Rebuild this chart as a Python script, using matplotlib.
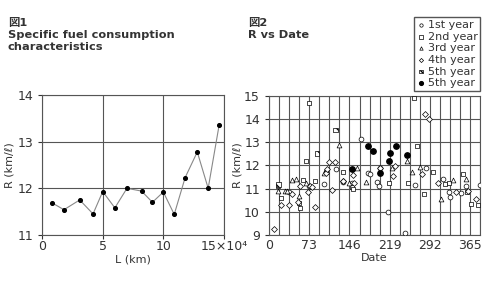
import numpy as np
import matplotlib
matplotlib.use("Agg")
import matplotlib.pyplot as plt
from matplotlib.ticker import MultipleLocator

plt.rcParams['font.family'] = ['DejaVu Sans', 'Noto Sans CJK JP']

# Fig.1: specific fuel consumption vs distance (x in 10^4 km)
L_km = [0.8, 1.8, 3.1, 4.2, 5.0, 6.0, 7.0, 8.2, 9.1, 10.0, 10.9, 11.8, 12.8, 13.7, 14.6]
R_fuel = [11.69, 11.54, 11.75, 11.45, 11.93, 11.58, 12.0, 11.94, 11.70, 11.92, 11.44, 12.23, 12.78, 12.0, 13.35]

# Fig.2: R vs date, one pair of lists per year
d1 = [37, 73, 100, 122, 134, 150, 167, 180, 184, 196, 199, 202, 216, 246, 265, 284,
      316, 327, 329, 348, 357, 382]
r1 = [10.85, 11.1, 11.2, 11.84, 11.27, 11.25, 13.16, 11.66, 11.62, 11.3, 11.1, 11.87,
      10.0, 9.1, 11.17, 11.9, 11.43, 10.84, 10.62, 10.8, 11.1, 11.17]
d2 = [16, 21, 54, 57, 62, 67, 73, 83, 104, 135, 150, 152, 217, 252, 264, 269, 281,
      298, 319, 327, 352, 359, 367, 379]
r2 = [11.1, 10.6, 10.37, 10.15, 11.38, 12.18, 14.68, 11.33, 11.7, 11.73, 11.05, 11.0,
      11.26, 11.22, 14.92, 12.85, 10.77, 11.73, 11.2, 11.26, 11.61, 10.87, 10.33, 10.3]
d3 = [16, 29, 33, 41, 49, 55, 67, 100, 127, 146, 159, 176, 223, 250, 260, 274, 313, 333, 357]
r3 = [10.9, 10.9, 10.88, 11.37, 11.41, 10.7, 11.23, 11.68, 12.88, 11.25, 11.9, 11.27,
      11.87, 12.2, 11.7, 11.92, 10.55, 11.35, 11.4]
d4 = [9, 22, 37, 42, 52, 56, 70, 75, 78, 84, 103, 105, 108, 115, 120, 134, 135, 153,
      155, 202, 225, 229, 277, 283, 291, 307, 340, 361, 375]
r4 = [9.24, 10.3, 10.3, 10.75, 10.41, 11.12, 10.86, 11.12, 11.06, 10.2, 11.66, 11.84,
      12.16, 10.95, 12.16, 11.33, 11.33, 11.59, 11.26, 11.87, 11.55, 11.98, 11.63, 14.22,
      14.0, 11.22, 10.87, 10.9, 10.55]
d5a = [17, 87, 120]
r5a = [11.17, 12.52, 13.53]
d5b = [150, 179, 188, 202, 217, 220, 231, 250]
r5b = [11.86, 12.85, 12.63, 11.69, 12.2, 12.52, 12.85, 12.45]

txt = '#333333'
edge = '#555555'

fig = plt.figure(figsize=(4.9, 2.83), dpi=100)

# ---- Fig.1
ax1 = fig.add_axes([0.086, 0.17, 0.371, 0.494])
ax1.plot(L_km, R_fuel, color='#888888', lw=0.8, zorder=3)
ax1.scatter(L_km, R_fuel, s=7, color='black', zorder=4)
ax1.set_xlim(0, 15)
ax1.set_ylim(11, 14)
ax1.set_xticks([0, 5, 10, 15])
ax1.set_xticklabels(['0', '5', '10', '15×10⁴'])
ax1.set_yticks([11, 12, 13, 14])
ax1.grid(True, color='#555555', lw=0.8)
ax1.set_axisbelow(True)
ax1.set_xlabel('L (km)', fontsize=8, color=txt, labelpad=1)
ax1.set_ylabel('R (km/ℓ)', fontsize=8, color=txt, labelpad=2)

# ---- Fig.2  (grid every 365/20 days)
step = 365 / 20
ax2 = fig.add_axes([0.549, 0.17, 0.431, 0.491])
mk = dict(s=12, facecolor='white', edgecolor='black', linewidths=0.5, zorder=3)
ax2.scatter(d1, r1, marker='o', label='1st year', **mk)
ax2.scatter(d2, r2, marker='s', label='2nd year', **mk)
ax2.scatter(d3, r3, marker='^', label='3rd year', **mk)
ax2.scatter(d4, r4, marker='D', label='4th year', **dict(mk, s=9))
ax2.scatter(d5a, r5a, marker='s', hatch='\\\\\\\\', label='5th year', **mk)
ax2.scatter(d5b, r5b, marker='o', s=15, color='black', zorder=4, label='5th year')
ax2.set_xlim(0, step * 21)
ax2.set_ylim(9, 15)
ax2.set_xticks([0, 73, 146, 219, 292, 365])
ax2.set_yticks(range(9, 16))
ax2.xaxis.set_minor_locator(MultipleLocator(step))
ax2.grid(True, which='both', axis='x', color=edge, lw=0.8)
ax2.grid(True, axis='y', color=edge, lw=0.8)
ax2.tick_params(axis='x', which='both', length=0)
ax2.tick_params(axis='x', pad=3)
ax2.set_axisbelow(True)
ax2.set_xlabel('Date', fontsize=8, color=txt, labelpad=1)
ax2.set_ylabel('R (km/ℓ)', fontsize=8, color=txt, labelpad=1)
leg = ax2.legend(loc='lower right', bbox_to_anchor=(1.0, 1.035), fontsize=8,
                 labelspacing=0.15, handletextpad=0.2, handlelength=0.8,
                 borderpad=0.25, borderaxespad=0, markerscale=0.7, fancybox=False,
                 framealpha=1, edgecolor='#555555')
for t in leg.get_texts():
    t.set_color(txt)

for ax in (ax1, ax2):
    ax.tick_params(axis='y', length=3)
    ax.tick_params(labelsize=9, colors=txt, width=0.8)
    for sp in ax.spines.values():
        sp.set_color(edge)
        sp.set_linewidth(0.8)
ax1.tick_params(axis='x', length=3, pad=1)

fig.text(0.016, 0.935, '図1\nSpecific fuel consumption\ncharacteristics',
         fontsize=8.2, fontweight='bold', color=txt, va='top', linespacing=1.2)
fig.text(0.506, 0.935, '図2\nR vs Date', fontsize=8.2, fontweight='bold',
         color=txt, va='top', linespacing=1.2)

fig.savefig('out.png', dpi=100)
